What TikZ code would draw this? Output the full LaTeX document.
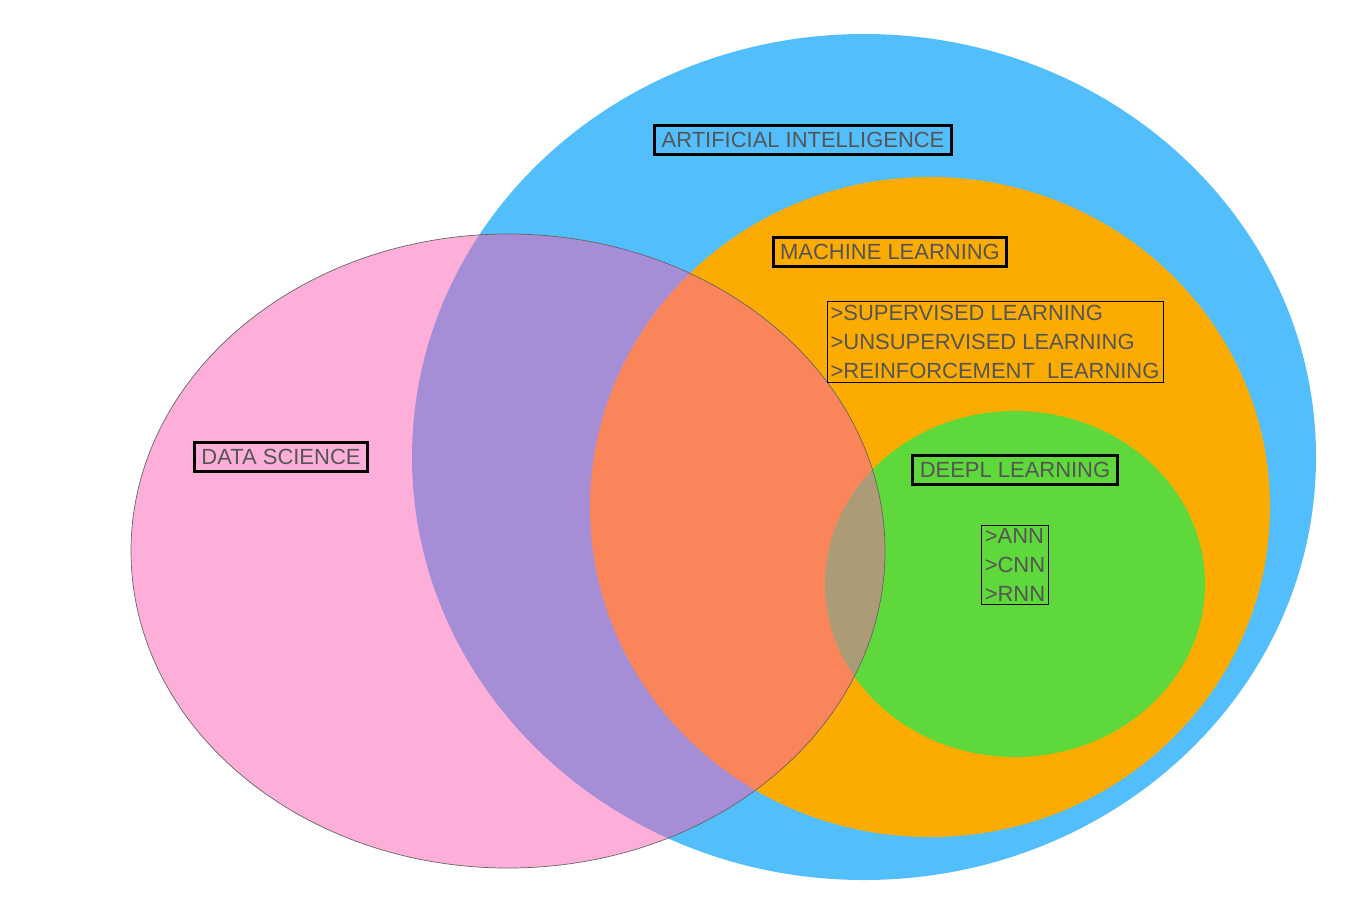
\documentclass[tikz,border=0pt]{standalone}
\usepackage{fontspec}
\setmainfont{Liberation Sans}
\definecolor{aiblue}{HTML}{52BEFC}
\definecolor{mlorange}{HTML}{FCAC00}
\definecolor{dlgreen}{HTML}{5ED83A}
\definecolor{dspink}{RGB}{251,96,180}
\definecolor{labelgray}{HTML}{555555}
\begin{document}
\begin{tikzpicture}[
  x = 0.02cm,
  y = -0.02cm,
  title/.style = {
    draw = black,
    line width = 1.6pt,
    text = labelgray,
    font = \fontsize{12.5}{15}\selectfont,
    inner sep = 4pt
  },
  list/.style = {
    draw = black,
    line width = 0.5pt,
    text = labelgray,
    align = left,
    font = \fontsize{12.5}{16.4}\selectfont,
    inner sep = 2pt
  }
]
  \useasboundingbox (0, 0) rectangle (1358, 914);
  \fill[aiblue] (864, 457) ellipse (452 and 423);
  \fill[mlorange] (930, 507) ellipse (340 and 330);
  \fill[dlgreen] (1015, 584) ellipse (190 and 173);
  \filldraw[fill = dspink, fill opacity = 0.5, draw = black!60, line width = 0.4pt]
    (508, 551) ellipse (377 and 317);

  \node[title] (ai) at (803, 140) {ARTIFICIAL INTELLIGENCE};
  \node[title] (ml) at (890, 252) {MACHINE LEARNING};
  \node[list] (mltypes) at (995, 342) {>SUPERVISED LEARNING\\>UNSUPERVISED LEARNING\\>REINFORCEMENT~~LEARNING};
  \node[title] (dl) at (1015, 470) {DEEPL LEARNING};
  \node[list] (nets) at (1015, 565) {>ANN\\>CNN\\>RNN};
  \node[title] (ds) at (281, 457) {DATA SCIENCE};
\end{tikzpicture}
\end{document}
